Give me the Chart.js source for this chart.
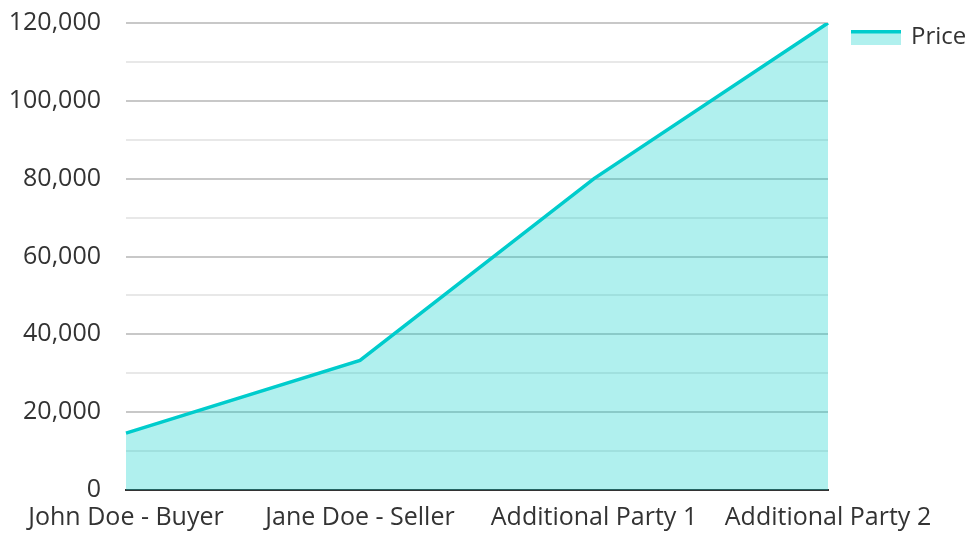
<!DOCTYPE html>
<html lang="en">
<head>
    <meta charset="UTF-8">
    <title>Price</title>
    <script src="https://cdn.jsdelivr.net/npm/chart.js"></script>
    <style>
        html, body { margin: 0; padding: 0; background: #fff; }
        #wrap { width: 970px; height: 533px; }
    </style>
</head>
<body>
    <div id="wrap"><canvas id="priceChart"></canvas></div>

    <script>
        // Chart data
        const parties = ['John Doe - Buyer', 'Jane Doe - Seller', 'Additional Party 1', 'Additional Party 2'];
        const prices = [14600, 33300, 80000, 120000];
        const seriesLabel = 'Price';

        const lineColor = '#00CCCC';
        const fillColor = 'rgba(0, 206, 201, 0.31)';

        // legend swatch: line on top, fill below
        const swatch = document.createElement('canvas');
        swatch.width = 50;
        swatch.height = 15;
        const sctx = swatch.getContext('2d');
        sctx.fillStyle = fillColor;
        sctx.fillRect(0, 3, 50, 12);
        sctx.fillStyle = lineColor;
        sctx.fillRect(0, 0, 50, 4);

        // keep the legend column a fixed width so the plot ends where it should
        const legendWidth = {
            id: 'legendWidth',
            beforeInit(chart) {
                const legend = chart.legend;
                if (!legend) return;
                const fit = legend.fit;
                legend.fit = function () {
                    fit.call(this);
                    this.width = 142;
                };
            },
        };

        Chart.defaults.font.family = '"Open Sans", sans-serif';
        Chart.defaults.color = '#333';

        const ctx = document.getElementById('priceChart').getContext('2d');
        new Chart(ctx, {
            type: 'line',
            data: {
                labels: parties,
                datasets: [{
                    label: seriesLabel,
                    data: prices,
                    borderColor: lineColor,
                    backgroundColor: fillColor,
                    borderWidth: 3.5,
                    fill: 'origin',
                    pointRadius: 0,
                    tension: 0,
                }],
            },
            plugins: [legendWidth],
            options: {
                responsive: true,
                maintainAspectRatio: false,
                animation: false,
                layout: { padding: 0 },
                plugins: {
                    legend: {
                        position: 'right',
                        align: 'start',
                        labels: {
                            usePointStyle: true,
                            pointStyle: swatch,
                            pointStyleWidth: 46,
                            font: { size: 24 },
                            color: '#333',
                            padding: 25,
                        },
                    },
                    tooltip: { enabled: false },
                },
                scales: {
                    x: {
                        offset: false,
                        grid: { display: false, drawTicks: false },
                        border: { color: '#333', width: 2 },
                        ticks: { font: { size: 25 }, color: '#333', maxRotation: 0, padding: 13 },
                        afterFit: (axis) => { axis.height = 43; },
                    },
                    y: {
                        min: 0,
                        max: 120000,
                        border: { display: false },
                        grid: {
                            drawTicks: false,
                            color: (c) => (c.tick.value % 20000 === 0 ? '#c8c8c8' : '#e8e8e8'),
                            lineWidth: 2,
                        },
                        ticks: {
                            stepSize: 10000,
                            font: { size: 25 },
                            color: '#333',
                            padding: 25,
                            autoSkip: false,
                            callback: (v) => (v % 20000 === 0 ? v.toLocaleString('en-US') : ''),
                        },
                        afterFit: (axis) => { axis.width = 126; axis.paddingTop = 23; },
                    },
                },
            },
        });
    </script>
</body>
</html>
